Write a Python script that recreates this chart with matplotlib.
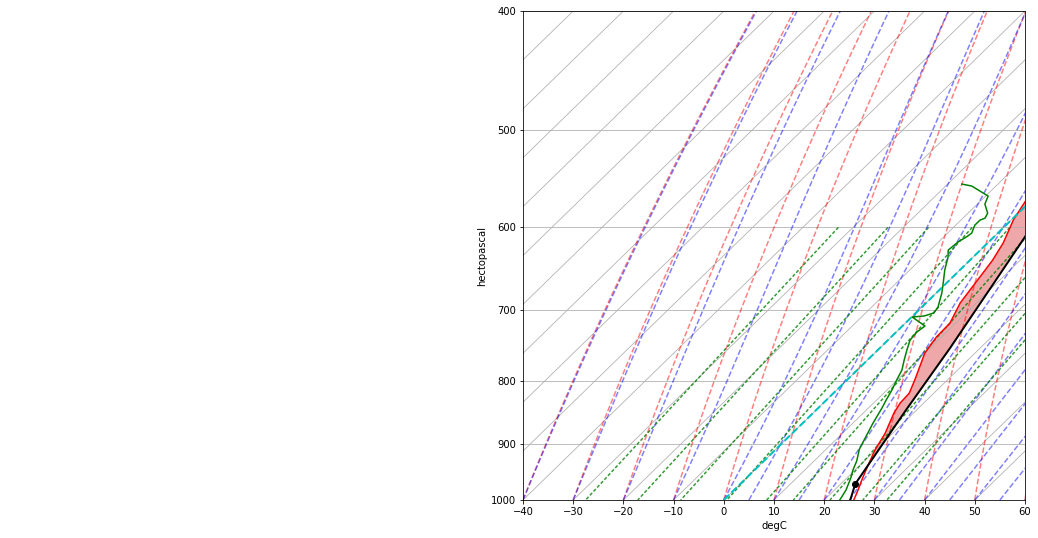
import numpy as np
import matplotlib
matplotlib.use("Agg")
import matplotlib.pyplot as plt
from matplotlib.ticker import FixedLocator, NullLocator, FuncFormatter

# sounding (hPa / degC)
p_temp = [1000, 981.4, 963.2, 939.5, 910.7, 882.5, 849.6, 833.7, 818.7, 798.6, 759.4,
          736.5, 718.2, 691.3, 674.7, 658.2, 638.0, 617.8, 591.6, 571.5, 553.0]
temp = [25.9, 24.7, 23.4, 21.8, 19.9, 18.5, 16.1, 15.3, 15.1, 13.5, 10.0,
        9.0, 8.9, 6.8, 6.1, 5.4, 4.5, 3.1, 0.4, -1.0, -2.3]

p_dew = [1000, 981.4, 959.6, 945.4, 929.5, 909.0, 895.5, 882.2, 865.8, 852.8, 841.7,
         829.2, 813.8, 798.6, 783.8, 769.2, 755.0, 741.0, 730.0, 721.8, 709.7, 708.3,
         704.4, 696.5, 678.5, 666.0, 650.0, 634.4, 626.1, 616.5, 610.7, 606.5, 597.5,
         591.9, 589.7, 584.2, 574.4, 565.8, 561.6, 555.3, 553.2]
dewpt = [23.1, 22.3, 20.8, 19.6, 18.5, 16.6, 15.8, 15.0, 14.0, 13.3, 12.7,
         11.9, 11.0, 9.9, 8.9, 7.3, 5.8, 4.4, 4.1, 4.5, 0.1, 2.3,
         3.6, 3.2, 1.1, -0.65, -3.0, -5.0, -6.4, -6.1, -5.45, -5.2, -6.2,
         -6.2, -5.6, -6.1, -8.5, -9.5, -11.6, -14.8, -17.2]

p_parcel = [1000, 970.4, 844.9, 752.2, 610.9, 553.0]
parcel = [25.2, 22.9, 17.9, 14.0, 6.2, 2.0]

p_lcl, t_lcl = 970.4, 22.9

# background lines
dry_t0 = np.arange(-40, 61, 10)
moist_t0 = np.concatenate((np.arange(-40, 0, 10), np.arange(0, 61, 5)))
mix_ratios = [0.0004, 0.001, 0.002, 0.004, 0.007, 0.01, 0.016, 0.024, 0.032]
isotherms = np.arange(-150, 61, 10)
p_ticks = [1000, 900, 800, 700, 600, 500, 400]

P_BOT, P_TOP = 1000.0, 400.0
T_MIN, T_MAX = -40, 60


def skew(t, p):
    """45 degree skew in axes space: shift x by the full width at the top."""
    frac = np.log(P_BOT / np.asarray(p, float)) / np.log(P_BOT / P_TOP)
    return np.asarray(t, float) + (T_MAX - T_MIN) * frac


def sat_vapor(tk):
    return 6.112 * np.exp(17.67 * (tk - 273.15) / (tk - 29.65))


def moist_lapse(t0, pres):
    Rd, Lv, Cp, eps = 287.04749, 2.50084e6, 1004.666, 0.6219569

    def dtdp(t, p):
        es = sat_vapor(t)
        rs = eps * es / (p - es)
        return (Rd * t + Lv * rs) / (Cp + Lv * Lv * rs * eps / (Rd * t * t)) / p

    t = t0 + 273.15
    out = [t]
    for p0, p1 in zip(pres[:-1], pres[1:]):
        h = p1 - p0
        k1 = dtdp(t, p0)
        k2 = dtdp(t + h * k1 / 2, p0 + h / 2)
        k3 = dtdp(t + h * k2 / 2, p0 + h / 2)
        k4 = dtdp(t + h * k3, p1)
        t = t + h * (k1 + 2 * k2 + 2 * k3 + k4) / 6
        out.append(t)
    return np.array(out) - 273.15


DPI = 72
fig = plt.figure(figsize=(1038 / DPI, 538 / DPI), dpi=DPI)
ax = fig.add_axes([523 / 1038, 38 / 538, 502 / 1038, 489 / 538])
ax.set_yscale("log")

pres = np.linspace(P_BOT, P_TOP, 80)

# isotherms (skewed x grid)
for t in isotherms:
    ax.plot([t, t + (T_MAX - T_MIN)], [P_BOT, P_TOP], color="#b0b0b0", lw=0.8, zorder=1.5)
for p in p_ticks:
    ax.axhline(p, color="#b0b0b0", lw=0.8, zorder=1.5)

for t0 in dry_t0:
    tt = (t0 + 273.15) * (pres / 1000.0) ** 0.2857 - 273.15
    ax.plot(skew(tt, pres), pres, color="r", ls="--", alpha=0.5, lw=1.5)

for t0 in moist_t0:
    tt = moist_lapse(t0, pres)
    ax.plot(skew(tt, pres), pres, color="b", ls="--", alpha=0.5, lw=1.5)

p_mix = np.linspace(600, P_BOT, 50)
for w in mix_ratios:
    e = p_mix * w / (0.6219569 + w)
    ln = np.log(e / 6.112)
    td = 243.5 * ln / (17.67 - ln)
    ax.plot(skew(td, p_mix), p_mix, color="g", dashes=(2.2, 1.35), alpha=0.8, lw=1.5)

# sounding
ax.plot(skew(temp, p_temp), p_temp, color="r", lw=1.5)
ax.plot(skew(dewpt, p_dew), p_dew, color="g", lw=1.5)
ax.plot(skew(parcel, p_parcel), p_parcel, color="k", lw=2)
ax.plot(skew([t_lcl], [p_lcl]), [p_lcl], "ko", markerfacecolor="black")

# CAPE shading
pf = np.linspace(P_BOT, 553.0, 300)
x_env = skew(np.interp(pf[::-1], p_temp[::-1], temp[::-1])[::-1], pf)
x_par = skew(np.interp(pf[::-1], p_parcel[::-1], parcel[::-1])[::-1], pf)
ax.fill_betweenx(pf, x_env, x_par, where=x_par > x_env, interpolate=True,
                 facecolor="tab:red", alpha=0.4, lw=0)

# 0 degC isotherm
ax.plot([0, T_MAX - T_MIN], [P_BOT, P_TOP], color="c", ls="--", lw=2)

ax.set_xlim(T_MIN, T_MAX)
ax.set_ylim(P_BOT, P_TOP)
ax.yaxis.set_major_locator(FixedLocator(p_ticks))
ax.yaxis.set_minor_locator(NullLocator())
ax.yaxis.set_major_formatter(FuncFormatter(lambda v, pos: f"{v:.0f}"))
ax.set_xticks(np.arange(-40, 61, 10))
ax.set_xlabel("degC")
ax.set_ylabel("hectopascal")

fig.savefig("out.png", dpi=DPI)
